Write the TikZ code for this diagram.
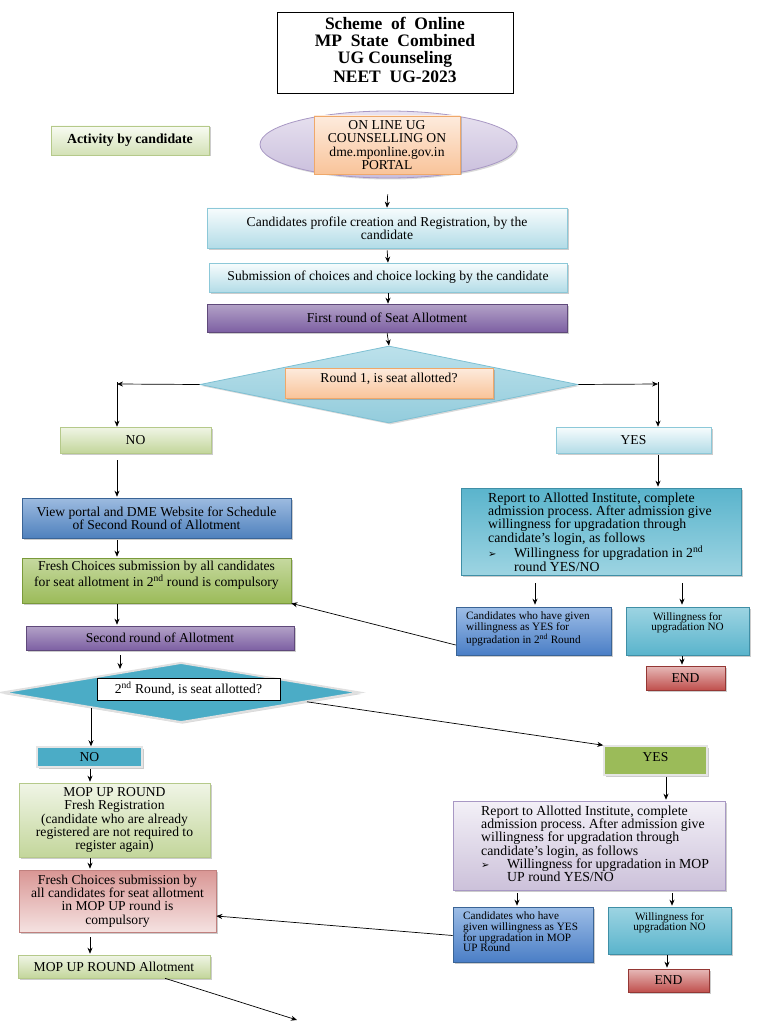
\documentclass[tikz,border=0pt]{standalone}
\usepackage{fontspec}
\setmainfont{Liberation Serif}
\newfontfamily\dejavu{DejaVu Sans}
\usetikzlibrary{shapes.geometric,shadows,arrows.meta,calc}
\frenchspacing
\definecolor{actTop}{HTML}{F8FBF2}\definecolor{actBot}{HTML}{D3E1B6}\definecolor{actBd}{HTML}{B5C98A}
\definecolor{ellTop}{HTML}{E8E2F0}\definecolor{ellBot}{HTML}{C9BEDC}\definecolor{ellBd}{HTML}{A898C4}
\definecolor{orTop}{HTML}{FDEBDD}\definecolor{orBot}{HTML}{F9C49A}\definecolor{orBd}{HTML}{EFA86A}
\definecolor{cyTop}{HTML}{F7FCFD}\definecolor{cyBot}{HTML}{B3DCE7}\definecolor{cyBd}{HTML}{8CC8D8}
\definecolor{puTop}{HTML}{B3A2C7}\definecolor{puBot}{HTML}{7D60A3}\definecolor{puBd}{HTML}{5F497A}
\definecolor{dTop}{HTML}{BCE1EB}\definecolor{dBot}{HTML}{93CCDC}\definecolor{dBd}{HTML}{7EC0D3}
\definecolor{vTop}{HTML}{9DBBE0}\definecolor{vBot}{HTML}{4F81BD}\definecolor{vBd}{HTML}{3A6496}
\definecolor{fTop}{HTML}{C6D9A0}\definecolor{fBot}{HTML}{9BBB59}\definecolor{fBd}{HTML}{7A9A3A}
\definecolor{tTop}{HTML}{5AB4CC}\definecolor{tBot}{HTML}{9DD4E2}\definecolor{tBd}{HTML}{3F8FA6}
\definecolor{bTop}{HTML}{9DBDE6}\definecolor{bBot}{HTML}{4A7EC6}\definecolor{bBd}{HTML}{3A6496}
\definecolor{eTop}{HTML}{E6B9B8}\definecolor{eBot}{HTML}{C0504D}\definecolor{eBd}{HTML}{943734}
\definecolor{teal}{HTML}{4BACC6}\definecolor{olive}{HTML}{9BBB59}
\definecolor{mTop}{HTML}{F0F5E6}\definecolor{mBot}{HTML}{C3D69B}
\definecolor{pTop}{HTML}{D99694}\definecolor{pBot}{HTML}{F5E2E1}\definecolor{pBd}{HTML}{C0807E}
\definecolor{lTop}{HTML}{F3F0F7}\definecolor{lBot}{HTML}{CCC1DA}\definecolor{lBd}{HTML}{A898C4}
\begin{document}
\begin{tikzpicture}[x=1pt,y=-1pt,
  >={Stealth[length=6pt,width=5pt]},
  arr/.style={->,line width=0.7pt,black},
  bx/.style={rectangle,draw,line width=0.6pt,inner sep=2pt,align=center,
    drop shadow={shadow xshift=1.5pt,shadow yshift=-1.5pt,opacity=0.4}},
  txt/.style={font=\fontsize{13.6}{13.3}\selectfont},
  big/.style={font=\fontsize{13.8}{13.1}\selectfont},
  sm/.style={font=\fontsize{11.2}{10.6}\selectfont},
  tl/.style={anchor=north west,inner sep=0pt,align=left},
  tc/.style={anchor=north,inner sep=0pt,align=center},
  grad/.style 2 args={top color=#1,bottom color=#2},
]
\useasboundingbox (0,0) rectangle (768,1024);
% title
\node[rectangle,draw,line width=0.8pt,minimum width=236pt,minimum height=81pt] (title) at (395,52.5) {};
\node[align=center,inner sep=0pt,font=\fontsize{17.5}{17}\bfseries] (titletext) at (395,49.5)
  {Scheme\ \ of\ \ Online\\ MP\ \ State\ \ Combined\\ UG Counseling\\[2pt] NEET\ \ UG-2023};
\node[bx,grad={actTop}{actBot},draw=actBd,minimum width=158pt,minimum height=29pt,
  font=\fontsize{13.8}{14}\bfseries] (act) at (130,140.5) {Activity by candidate};
% portal
\node[ellipse,draw=ellBd,line width=0.8pt,grad={ellTop}{ellBot},minimum width=257pt,minimum height=67pt,
  drop shadow={shadow xshift=1.5pt,shadow yshift=-1.5pt,opacity=0.3}] (ell) at (388.5,144.5) {};
\node[bx,grad={orTop}{orBot},draw=orBd,minimum width=146pt,minimum height=58pt,txt] (portal) at (387,145)
  {ON LINE UG\\ COUNSELLING ON\\ dme.mponline.gov.in\\ PORTAL};
\node[bx,grad={cyTop}{cyBot},draw=cyBd,minimum width=360pt,minimum height=40pt,txt] (b1) at (387,228)
  {Candidates profile creation and Registration, by the\\ candidate};
\node[bx,grad={cyTop}{cyBot},draw=cyBd,minimum width=358pt,minimum height=29pt,txt] (b2) at (388,277.5)
  {Submission of choices and choice locking by the candidate};
\node[bx,grad={puTop}{puBot},draw=puBd,minimum width=360pt,minimum height=28pt,txt] (b3) at (387,318)
  {First round of Seat Allotment};
% decision 1
\node[diamond,draw=dBd,line width=0.8pt,grad={dTop}{dBot},minimum width=378pt,minimum height=77pt,inner sep=0pt,
  drop shadow={shadow xshift=1.5pt,shadow yshift=-1.5pt,opacity=0.3}] (dia1) at (389,384.5) {};
\node[bx,grad={orTop}{orBot},draw=orBd,minimum width=208pt,minimum height=30pt,txt] (q1) at (389,383)
  {Round 1, is seat allotted?\\[-3pt]};
\node[bx,grad={mTop}{mBot},draw=actBd,minimum width=151pt,minimum height=26pt,txt] (no1) at (135.5,440) {NO};
\node[bx,grad={cyTop}{cyBot},draw=cyBd,minimum width=155pt,minimum height=26pt,txt] (yes1) at (633.5,440) {YES};
\coordinate (c1) at (117,384);
\coordinate (c2) at (658,384);
% left branch
\node[bx,grad={vTop}{vBot},draw=vBd,minimum width=269pt,minimum height=40pt,txt] (view) at (156.5,518)
  {View portal and DME Website for Schedule\\ of Second Round of Allotment};
\node[bx,grad={fTop}{fBot},draw=fBd,minimum width=269pt,minimum height=45pt] (fresh1) at (156.5,580.5) {};
\node[tc,txt] at (156.5,561) {Fresh Choices submission by all candidates\\ for seat allotment in 2\textsuperscript{nd} round is compulsory};
\node[bx,grad={puTop}{puBot},draw=puBd,minimum width=268pt,minimum height=24pt,txt] (sec) at (160,638)
  {Second round of Allotment};
% right branch 1
\node[bx,grad={tTop}{tBot},draw=tBd,minimum width=280pt,minimum height=87pt] (rep1) at (601,531.5) {};
\node[tl,big] at (488,493) {Report to Allotted Institute, complete\\ admission process. After admission give\\
  willingness for upgradation through\\ candidate's login, as follows\\
  \makebox[26pt][l]{{\dejavu\fontsize{10}{10}\selectfont ➢}}Willingness for upgradation in 2\textsuperscript{nd}\\
  \hspace*{26pt}round YES/NO};
\node[bx,grad={bTop}{bBot},draw=bBd,minimum width=155pt,minimum height=48pt] (cand1) at (533.5,631) {};
\node[tl,sm] at (466,612) {Candidates who have given\\ willingness as YES for\\ upgradation in 2\textsuperscript{nd} Round};
\node[bx,grad={tBot}{tTop},draw=tBd,minimum width=123pt,minimum height=48pt] (wno1) at (687.5,631) {};
\node[tc,sm] at (687.5,612) {Willingness for\\ upgradation NO};
\node[bx,grad={eTop}{eBot},draw=eBd,minimum width=79pt,minimum height=24pt,txt] (end1) at (685.5,678) {END};
% decision 2
\node[diamond,draw=black!12,line width=2pt,fill=teal,minimum width=358pt,minimum height=60pt,inner sep=0pt,
  drop shadow={shadow xshift=1.5pt,shadow yshift=-1.5pt,opacity=0.3}] (dia2) at (181,692.5) {};
\node[rectangle,draw,line width=0.8pt,fill=white,minimum width=183pt,minimum height=22pt,txt] (q2) at (188.5,689)
  {2\textsuperscript{nd} Round, is seat allotted?};
\node[bx,fill=teal,draw=black!10,line width=1.5pt,minimum width=105pt,minimum height=20pt,txt] (no2) at (89.5,757) {NO};
\node[bx,fill=olive,draw=black!10,line width=1.5pt,minimum width=103pt,minimum height=29pt,txt] (yes2) at (655.5,760.5) {YES\\[-7pt]};
% left branch 2
\node[bx,grad={mTop}{mBot},draw=actBd,minimum width=191pt,minimum height=74pt,txt] (mop) at (114.5,820)
  {MOP UP ROUND\\ Fresh Registration\\ (candidate who are already\\ registered are not required to\\ register again)};
\node[bx,grad={pTop}{pBot},draw=pBd,minimum width=197pt,minimum height=62pt,txt] (pink) at (117.5,901)
  {Fresh Choices submission by\\ all candidates for seat allotment\\ in MOP UP round is\\ compulsory};
\node[bx,grad={mTop}{mBot},draw=actBd,minimum width=192pt,minimum height=23pt,txt] (mopa) at (114,966.5)
  {MOP UP ROUND Allotment};
\coordinate (off) at (297,1020);
% right branch 2
\node[bx,grad={lTop}{lBot},draw=lBd,minimum width=272pt,minimum height=89pt] (rep2) at (589,845.5) {};
\node[tl,big] at (481,806) {Report to Allotted Institute, complete\\ admission process. After admission give\\
  willingness for upgradation through\\ candidate's login, as follows\\
  \makebox[26pt][l]{{\dejavu\fontsize{10}{10}\selectfont ➢}}Willingness for upgradation in MOP\\
  \hspace*{26pt}UP round YES/NO};
\node[bx,grad={bTop}{bBot},draw=bBd,minimum width=140pt,minimum height=55pt] (cand2) at (523,934.5) {};
\node[tl,sm] at (463,912) {Candidates who have\\ given willingness as YES\\ for upgradation in MOP\\ UP Round};
\node[bx,grad={tBot}{tTop},draw=tBd,minimum width=123pt,minimum height=47pt] (wno2) at (669.5,930.5) {};
\node[tc,sm] at (669.5,912) {Willingness for\\ upgradation NO};
\node[bx,grad={eTop}{eBot},draw=eBd,minimum width=81pt,minimum height=23pt,txt] (end2) at (668.5,980.5) {END};
% connectors
\draw[arr,shorten <=16pt] (ell.south) -- (b1.north);
\draw[arr,shorten <=2pt] (b1.south) -- (b2.north);
\draw[arr,shorten <=1pt] (b2.south) -- (b2.south |- b3.north);
\draw[arr,shorten <=1pt] (b3.south) -- (dia1.north);
\draw[arr] (dia1.west) -- (c1);
\draw[arr] ([yshift=2pt]c1) -- (c1 |- no1.north);
\draw[arr] (dia1.east) -- (c2);
\draw[arr] ([yshift=2pt]c2) -- (c2 |- yes1.north);
\draw[arr,shorten <=7pt,shorten >=1pt] (c1 |- no1.south) -- (c1 |- view.north);
\draw[arr,shorten <=2pt,shorten >=1pt] (c1 |- view.south) -- (c1 |- fresh1.north);
\draw[arr,shorten <=1pt,shorten >=1pt] (c1 |- fresh1.south) -- (c1 |- sec.north);
\draw[arr,shorten <=5pt] (sec.south -| 120,0) -- (120,669);
\draw[arr] (dia2.south west) -- (dia2.south west |- no2.north);
\draw[arr] ($(dia2.south east)!0.4!(dia2.east)$) -- (yes2.north west);
\draw[arr,shorten <=2pt,shorten >=1pt] (c2 |- yes1.south) -- (c2 |- rep1.north);
\draw[arr,shorten <=8pt,shorten >=2pt] (rep1.south -| 535,0) -- (cand1.north -| 535,0);
\draw[arr,shorten <=8pt,shorten >=2pt] (rep1.south -| 682,0) -- (wno1.north -| 682,0);
\draw[arr,shorten <=1pt,shorten >=1pt] (wno1.south -| 682,0) -- (end1.north -| 682,0);
\draw[arr] ([yshift=-14pt]cand1.west) -- (fresh1.south east);
\draw[arr,shorten <=1pt,shorten >=1pt] (no2.south -| 90,0) -- (mop.north -| 90,0);
\draw[arr,shorten <=1pt,shorten >=1pt] (mop.south -| 90,0) -- (pink.north -| 90,0);
\draw[arr,shorten <=5pt,shorten >=1pt] (pink.south -| 90,0) -- (mopa.north -| 90,0);
\draw[arr] (mopa.south -| 165,0) -- (off);
\draw[arr,shorten <=1pt,shorten >=1pt] (yes2.south -| 666,0) -- (rep2.north -| 666,0);
\draw[arr,shorten <=3pt,shorten >=1pt] (rep2.south -| 517,0) -- (cand2.north -| 517,0);
\draw[arr,shorten <=3pt,shorten >=1pt] (rep2.south -| 672,0) -- (wno2.north -| 672,0);
\draw[arr,shorten <=1pt,shorten >=1pt] (wno2.south -| 667,0) -- (end2.north -| 667,0);
\draw[arr] ([yshift=-1pt]cand2.west) -- ([yshift=-15pt]pink.east);
\end{tikzpicture}
\end{document}
